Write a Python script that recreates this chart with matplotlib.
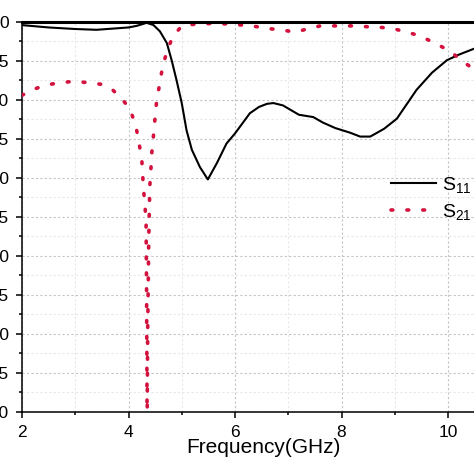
import matplotlib
matplotlib.use("Agg")
import matplotlib.pyplot as plt
from matplotlib.ticker import MultipleLocator

plt.rcParams['font.family'] = ['Liberation Sans', 'DejaVu Sans']
plt.rcParams['mathtext.default'] = 'regular'

# S11 (black, solid)
s11_freq = [2.0, 2.5, 3.0, 3.4, 3.8, 4.0, 4.15, 4.25, 4.34, 4.47, 4.59, 4.72, 4.81, 4.90,
            5.0, 5.09, 5.19, 5.34, 5.49, 5.66, 5.84, 6.0, 6.28, 6.45, 6.6, 6.72,
            6.9, 7.05, 7.2, 7.47, 7.65, 7.88, 8.16, 8.35, 8.54, 8.8, 9.04, 9.2, 9.41,
            9.7, 9.98, 10.2, 10.5]
s11_db = [-0.4, -0.7, -0.9, -1.0, -0.8, -0.7, -0.5, -0.3, -0.1, -0.4, -1.2, -2.7, -4.9, -7.4,
          -10.4, -13.9, -16.4, -18.6, -20.2, -18.1, -15.6, -14.3, -11.7, -10.9, -10.5, -10.4,
          -10.7, -11.3, -11.9, -12.2, -12.9, -13.6, -14.2, -14.7, -14.7, -13.7, -12.4, -10.8, -8.7,
          -6.5, -4.9, -4.2, -3.4]

# S21 (red, dotted)
s21_freq = [2.0, 2.23, 2.45, 2.69, 3.0, 3.25, 3.5, 3.7, 3.87, 4.03, 4.14, 4.2, 4.25, 4.28,
            4.31, 4.33, 4.34, 4.35, 4.36, 4.38, 4.40, 4.42, 4.44, 4.47, 4.5, 4.53, 4.59, 4.64,
            4.73, 4.83, 5.0, 5.28, 5.56, 5.86, 6.15, 6.41, 6.56, 6.85, 7.14, 7.35, 7.6, 7.88,
            8.2, 8.47, 8.76, 9.0, 9.22, 9.44, 9.66, 9.89, 10.07, 10.26, 10.5]
s21_db = [-9.4, -8.6, -8.1, -7.8, -7.6, -7.8, -8.0, -8.7, -9.8, -11.2, -13.4, -15.6, -17.7, -21.3,
          -23.6, -25.8, -35.0, -52.0, -40.0, -28.0, -21.1, -19.0, -16.6, -14.5, -12.2, -10.0, -7.8, -5.7,
          -3.6, -1.9, -0.5, -0.25, -0.2, -0.25, -0.4, -0.6, -0.8, -1.0, -1.3, -0.9, -0.5, -0.5,
          -0.5, -0.6, -0.7, -0.9, -1.3, -1.7, -2.4, -3.2, -3.9, -5.0, -6.1]

x_ticks = [2, 4, 6, 8, 10]
y_ticks = [0, -5, -10, -15, -20, -25, -30, -35, -40, -45, -50]

W = 474.0
fig = plt.figure(figsize=(4.74, 4.74), dpi=100)
left = 22 / W
bottom = (W - 411.7) / W
height = (411.7 - 22) / W
width = (W - 22) / W
ax = fig.add_axes([left, bottom, width, height])

ax.set_xlim(2, 2 + (W - 22) / 53.25)
ax.set_ylim(-50, 0)

ax.xaxis.set_major_locator(MultipleLocator(2))
ax.xaxis.set_minor_locator(MultipleLocator(1))
ax.yaxis.set_major_locator(MultipleLocator(5))
ax.yaxis.set_minor_locator(MultipleLocator(2.5))
ax.set_xticks(x_ticks)
ax.set_yticks(y_ticks)
ax.set_yticklabels([str(v) for v in y_ticks])

ax.grid(True, which='major', color='#c4c4c4', linestyle=(0, (2, 2)), linewidth=0.8)
ax.grid(True, which='minor', color='#e8e8e8', linestyle=(0, (2, 2)), linewidth=0.8)
ax.set_axisbelow(True)

ax.tick_params(axis='both', which='major', direction='out', length=4, width=1.1,
               labelsize=12.5, pad=5.5, colors='black')
ax.tick_params(axis='both', which='minor', direction='out', length=2.2, width=1.1)

for side in ['left', 'bottom']:
    ax.spines[side].set_linewidth(1.1)
ax.spines['right'].set_visible(False)
ax.spines['top'].set_linewidth(2.2)
ax.spines['top'].set_zorder(5)

ax.plot(s11_freq, s11_db, color='black', linewidth=1.5, label='S$_{11}$', zorder=3)
ax.plot(s21_freq, s21_db, color='#d3123e', linewidth=2.6,
        linestyle=(0, (0.5, 3.9)), dash_capstyle='round', label='S$_{21}$', zorder=3)

leg = ax.legend(loc='upper left', bbox_to_anchor=(391 / W, (W - 175) / W),
                bbox_transform=fig.transFigure, frameon=False, fontsize=14,
                handlelength=2.3, handletextpad=0.3, labelspacing=0.35,
                borderpad=0.0, borderaxespad=0.0)

fig.text(263 / W, (W - 453) / W, 'Frequency(GHz)', ha='center', va='baseline', fontsize=15)

fig.savefig('out.png', dpi=100)
